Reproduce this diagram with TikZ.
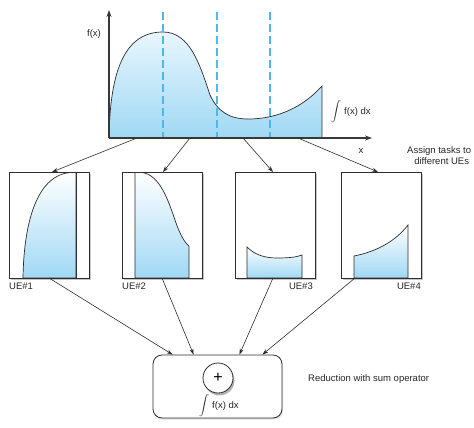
\documentclass[tikz,border=0pt]{standalone}
\usepackage{fontspec}
\setmainfont{Liberation Sans}
\usetikzlibrary{arrows.meta,shadows,calc}
\definecolor{fillblue}{RGB}{160,216,244}
\definecolor{filltop}{RGB}{232,246,253}
\definecolor{dashblue}{RGB}{80,182,234}
\definecolor{linegray}{RGB}{45,45,45}
\newcommand\myintsign{{\fontsize{11}{11}\selectfont$\displaystyle\int$}}
\begin{document}
\begin{tikzpicture}[x=1pt,y={(0pt,-1pt)},
  lbl/.style={font=\fontsize{9.5}{11}\selectfont, inner sep=0pt, text=black!85},
  ar/.style={draw=linegray, line width=0.6pt, -{Stealth[length=6pt,width=4pt]}},
  axis/.style={draw=black!78, line width=1.3pt, -{Stealth[length=7pt,width=5pt]}},
  uebox/.style={draw=linegray, line width=0.8pt, fill=white, minimum width=80pt, minimum height=106pt, inner sep=0pt, outer sep=0pt,
    drop shadow={opacity=0.45, shadow xshift=1.5pt, shadow yshift=-2pt}},
  area/.style={top color=white, bottom color=fillblue, draw=linegray, line width=0.7pt},
  cut/.style={draw=dashblue, line width=1.1pt, dash pattern=on 8pt off 4pt}
]
\useasboundingbox (0,0) rectangle (474,428);
% top function plot
\coordinate (O) at (109,138);
\coordinate (ytop) at (109,10);
\coordinate (xend) at (372,138);
\path[top color=filltop, bottom color=fillblue, draw=linegray, line width=0.7pt]
  (O) .. controls (110,70) and (125,32) .. (163,32)
  .. controls (190,32) and (200,65) .. (210,95)
  .. controls (218,112) and (230,119) .. (248,119)
  .. controls (280,119) and (305,105) .. (322,86) -- (322,138) -- cycle;
\foreach \xx in {163,217,270} \draw[cut] (\xx,12) -- (\xx,138);
\draw[axis] (O) -- (ytop);
\draw[axis] (O) -- (xend);
\node[lbl] (fx) at (94,34) {f(x)};
\node[lbl] (xl) at (361,151) {x};
\node[lbl, anchor=west] (int1) at (331,112) {\myintsign\hspace{3pt}f(x) dx};
\node[lbl, align=center, anchor=north west] (assign) at (407,146) {Assign tasks to\\ \hspace{5pt}different UEs};
% UE boxes
\node[uebox] (b1) at (49,225) {};
\node[uebox] (b2) at (162,225) {};
\node[uebox] (b3) at (275,225) {};
\node[uebox] (b4) at (381,225) {};
% box contents
\path[area] (23,278) .. controls (24,215) and (40,175) .. (70,172.5) -- (76,172.5) -- (76,278) -- cycle;
\draw[linegray, line width=0.7pt] (76,172) -- (76,278);
\path[area] (135,278) -- (135,172.5) -- (142,172.5) .. controls (160,175) and (168,200) .. (175,220)
  .. controls (180,235) and (185,243) .. (189,246) -- (189,278) -- cycle;
\path[area] (247,278) -- (247,247) .. controls (255,255) and (265,258) .. (277,258)
  .. controls (290,258) and (297,257) .. (302,255) -- (302,278) -- cycle;
\path[area] (354,278) -- (354,256) .. controls (375,252) and (395,242) .. (408,225) -- (408,278) -- cycle;
\foreach \b in {b1,b2,b3,b4} \draw[linegray, line width=0.8pt] (\b.south west) rectangle (\b.north east);
\node[lbl, anchor=north west] (u1) at (b1.south west) [yshift=-5pt] {UE\#1};
\node[lbl, anchor=north west] (u2) at (b2.south west) [yshift=-5pt] {UE\#2};
\node[lbl, anchor=north east] (u3) at (b3.south east) [yshift=-5pt, xshift=-2pt] {UE\#3};
\node[lbl, anchor=north east] (u4) at (b4.south east) [yshift=-5pt] {UE\#4};
% split arrows
\coordinate (s1) at (137,138);
\coordinate (s2) at (190,138);
\coordinate (s3) at (243,138);
\coordinate (s4) at (298,138);
\draw[ar] (s1) -- ([xshift=3pt]b1.north);
\draw[ar] (s2) -- ([xshift=1pt]b2.north);
\draw[ar] (s3) -- ([xshift=-2pt]b3.north);
\draw[ar] (s4) -- ([xshift=-3pt]b4.north);
% reduction box
\node[draw=linegray, line width=0.8pt, rounded corners=9pt, minimum width=129pt, minimum height=63pt, inner sep=0pt, fill=white,
  drop shadow={opacity=0.25, shadow xshift=1pt, shadow yshift=-1.5pt}] (sum) at (217.5,386.5) {};
\node[circle, draw=linegray, line width=0.8pt, fill=white, minimum size=30pt, inner sep=0pt,
  drop shadow={opacity=0.6, shadow xshift=1.5pt, shadow yshift=-2.5pt}, font=\fontsize{16}{16}\selectfont] (plus) at (218,378) {+};
\node[lbl, anchor=west] (int2) at (199,406) {\myintsign\hspace{3pt}f(x) dx};
\draw[ar] (b1.south) -- ([xshift=20pt]sum.north west);
\draw[ar] (b2.south) -- ([xshift=41pt]sum.north west);
\draw[ar] ([xshift=-2pt]b3.south) -- ([xshift=-43pt]sum.north east);
\draw[ar] ([xshift=-26pt]b4.south) -- ([xshift=-20pt]sum.north east);
\node[lbl, anchor=west] (red) at (308,379) {Reduction with sum operator};
\end{tikzpicture}
\end{document}
